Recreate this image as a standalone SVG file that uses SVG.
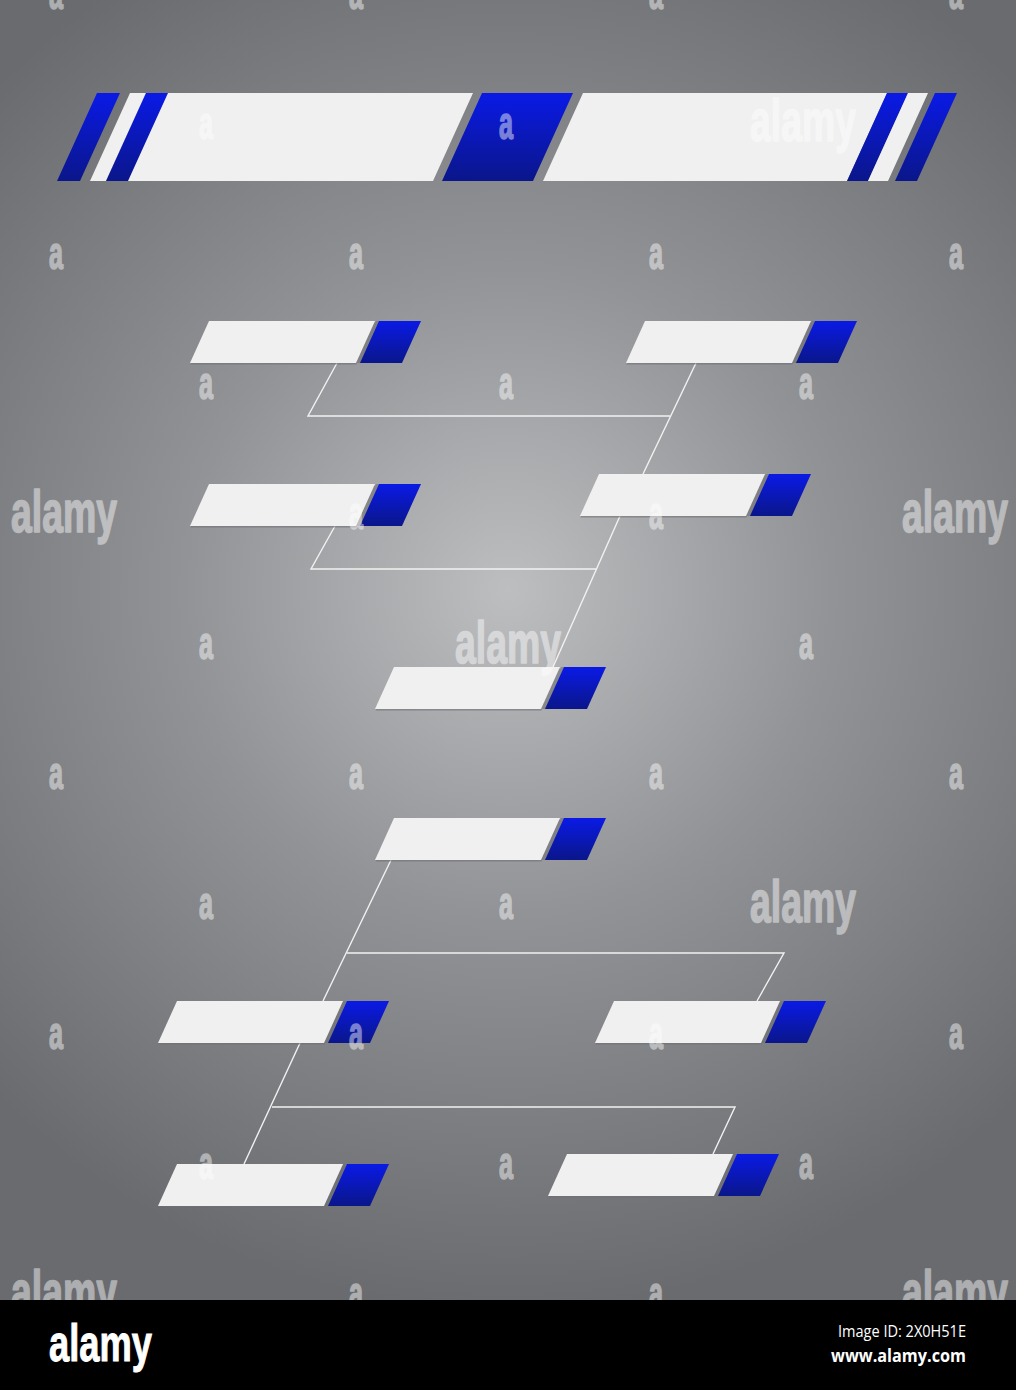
<svg xmlns="http://www.w3.org/2000/svg" width="1016" height="1390" viewBox="0 0 1016 1390">
<defs>
<radialGradient id="bg" gradientUnits="userSpaceOnUse" cx="508" cy="590" r="720">
<stop offset="0" stop-color="#bdbec0"/>
<stop offset="0.45" stop-color="#929396"/>
<stop offset="1" stop-color="#6a6b6f"/>
</radialGradient>
<linearGradient id="blue" x1="0" y1="0" x2="0" y2="1">
<stop offset="0" stop-color="#0a1ae6"/>
<stop offset="1" stop-color="#0a168a"/>
</linearGradient>
<clipPath id="wmclip"><rect x="0" y="0" width="1016" height="1300"/></clipPath>
<style>
.w{fill:#f0f0f0}
.b{fill:url(#blue)}
.sh{fill:#6f7073;opacity:0.6}
.c{fill:none;stroke:#f2f2f2;stroke-width:1.4}
.wm{font-family:"Liberation Sans Narrow","Liberation Sans",Arial,sans-serif;font-weight:bold;fill:#ffffff;stroke:#ffffff;stroke-width:1.6;stroke-linejoin:round;text-anchor:middle}
</style>
<g id="shape">
<polygon class="sh" points="19,1.5 185,1.5 166,43.5 0,43.5" transform="translate(0.5,0)"/>
<polygon class="w" points="19,0 185,0 166,42 0,42"/>
<polygon class="sh" points="186,0 228,0 209,42 167,42"/>
<polygon class="b" points="189,0 231,0 212,42 170,42"/>
</g>
</defs>
<rect x="0" y="0" width="1016" height="1390" fill="url(#bg)"/>

<g id="header">
<polygon class="b" points="97,93 120,93 80,181 57,181"/>
<polygon class="w" points="130,93 146,93 106,181 90,181"/>
<polygon class="w" points="146,93 473,93 433,181 106,181"/>
<polygon class="b" points="146,93 168,93 128,181 106,181"/>
<polygon class="b" points="482,93 573,93 533,181 442,181"/>
<polygon class="w" points="583,93 887,93 847,181 543,181"/>
<polygon class="b" points="887,93 908,93 868,181 847,181"/>
<polygon class="w" points="908,93 928,93 888,181 868,181"/>
<polygon class="b" points="935,93 957,93 917,181 895,181"/>
</g>

<g id="connectors">
<polyline class="c" points="337,363 308,416 670,416"/>
<line class="c" x1="696" y1="363" x2="643" y2="474"/>
<polyline class="c" points="335,526 311,569 596,569"/>
<line class="c" x1="620" y1="516" x2="553" y2="667"/>
<line class="c" x1="391" y1="860" x2="323" y2="1001"/>
<polyline class="c" points="347,953 784,953 757,1001"/>
<line class="c" x1="300" y1="1043" x2="244" y2="1164"/>
<polyline class="c" points="272,1107 735,1107 713,1154"/>
</g>

<g id="node1" transform="translate(190,321)"><use href="#shape"/></g>
<g id="node2" transform="translate(626,321)"><use href="#shape"/></g>
<g id="node3" transform="translate(190,484)"><use href="#shape"/></g>
<g id="node4" transform="translate(580,474)"><use href="#shape"/></g>
<g id="node5" transform="translate(375,667)"><use href="#shape"/></g>
<g id="node6" transform="translate(375,818)"><use href="#shape"/></g>
<g id="node7" transform="translate(158,1001)"><use href="#shape"/></g>
<g id="node8" transform="translate(595,1001)"><use href="#shape"/></g>
<g id="node9" transform="translate(158,1164)"><use href="#shape"/></g>
<g id="node10" transform="translate(548,1154)"><use href="#shape"/></g>

<g id="watermarks" opacity="0.45" clip-path="url(#wmclip)">
<text class="wm" font-size="46" x="56" y="9" textLength="14" lengthAdjust="spacingAndGlyphs">a</text>
<text class="wm" font-size="46" x="356" y="9" textLength="14" lengthAdjust="spacingAndGlyphs">a</text>
<text class="wm" font-size="46" x="656" y="9" textLength="14" lengthAdjust="spacingAndGlyphs">a</text>
<text class="wm" font-size="46" x="956" y="9" textLength="14" lengthAdjust="spacingAndGlyphs">a</text>

<text class="wm" font-size="46" x="206" y="139" textLength="14" lengthAdjust="spacingAndGlyphs">a</text>
<text class="wm" font-size="46" x="506" y="139" textLength="14" lengthAdjust="spacingAndGlyphs">a</text>
<text class="wm" font-size="60" x="803" y="141" textLength="106" lengthAdjust="spacingAndGlyphs">alamy</text>

<text class="wm" font-size="46" x="56" y="269" textLength="14" lengthAdjust="spacingAndGlyphs">a</text>
<text class="wm" font-size="46" x="356" y="269" textLength="14" lengthAdjust="spacingAndGlyphs">a</text>
<text class="wm" font-size="46" x="656" y="269" textLength="14" lengthAdjust="spacingAndGlyphs">a</text>
<text class="wm" font-size="46" x="956" y="269" textLength="14" lengthAdjust="spacingAndGlyphs">a</text>

<text class="wm" font-size="46" x="206" y="399" textLength="14" lengthAdjust="spacingAndGlyphs">a</text>
<text class="wm" font-size="46" x="506" y="399" textLength="14" lengthAdjust="spacingAndGlyphs">a</text>
<text class="wm" font-size="46" x="806" y="399" textLength="14" lengthAdjust="spacingAndGlyphs">a</text>

<text class="wm" font-size="60" x="64" y="532" textLength="106" lengthAdjust="spacingAndGlyphs">alamy</text>
<text class="wm" font-size="46" x="356" y="529" textLength="14" lengthAdjust="spacingAndGlyphs">a</text>
<text class="wm" font-size="46" x="656" y="529" textLength="14" lengthAdjust="spacingAndGlyphs">a</text>
<text class="wm" font-size="60" x="955" y="532" textLength="106" lengthAdjust="spacingAndGlyphs">alamy</text>

<text class="wm" font-size="46" x="206" y="659" textLength="14" lengthAdjust="spacingAndGlyphs">a</text>
<text class="wm" font-size="60" x="508" y="663" textLength="106" lengthAdjust="spacingAndGlyphs">alamy</text>
<text class="wm" font-size="46" x="806" y="659" textLength="14" lengthAdjust="spacingAndGlyphs">a</text>

<text class="wm" font-size="46" x="56" y="789" textLength="14" lengthAdjust="spacingAndGlyphs">a</text>
<text class="wm" font-size="46" x="356" y="789" textLength="14" lengthAdjust="spacingAndGlyphs">a</text>
<text class="wm" font-size="46" x="656" y="789" textLength="14" lengthAdjust="spacingAndGlyphs">a</text>
<text class="wm" font-size="46" x="956" y="789" textLength="14" lengthAdjust="spacingAndGlyphs">a</text>

<text class="wm" font-size="46" x="206" y="919" textLength="14" lengthAdjust="spacingAndGlyphs">a</text>
<text class="wm" font-size="46" x="506" y="919" textLength="14" lengthAdjust="spacingAndGlyphs">a</text>
<text class="wm" font-size="60" x="803" y="922" textLength="106" lengthAdjust="spacingAndGlyphs">alamy</text>

<text class="wm" font-size="46" x="56" y="1049" textLength="14" lengthAdjust="spacingAndGlyphs">a</text>
<text class="wm" font-size="46" x="356" y="1049" textLength="14" lengthAdjust="spacingAndGlyphs">a</text>
<text class="wm" font-size="46" x="656" y="1049" textLength="14" lengthAdjust="spacingAndGlyphs">a</text>
<text class="wm" font-size="46" x="956" y="1049" textLength="14" lengthAdjust="spacingAndGlyphs">a</text>

<text class="wm" font-size="46" x="206" y="1179" textLength="14" lengthAdjust="spacingAndGlyphs">a</text>
<text class="wm" font-size="46" x="506" y="1179" textLength="14" lengthAdjust="spacingAndGlyphs">a</text>
<text class="wm" font-size="46" x="806" y="1179" textLength="14" lengthAdjust="spacingAndGlyphs">a</text>

<text class="wm" font-size="60" x="64" y="1312" textLength="106" lengthAdjust="spacingAndGlyphs">alamy</text>
<text class="wm" font-size="46" x="356" y="1309" textLength="14" lengthAdjust="spacingAndGlyphs">a</text>
<text class="wm" font-size="46" x="656" y="1309" textLength="14" lengthAdjust="spacingAndGlyphs">a</text>
<text class="wm" font-size="60" x="955" y="1312" textLength="106" lengthAdjust="spacingAndGlyphs">alamy</text>
</g>

<g id="footer">
<rect x="0" y="1300" width="1016" height="90" fill="#000000"/>
<text x="49" y="1361" font-family="Liberation Sans Narrow,Liberation Sans,Arial,sans-serif" font-weight="bold" font-size="52" fill="#ffffff" stroke="#ffffff" stroke-width="1" textLength="103" lengthAdjust="spacingAndGlyphs">alamy</text>
<text x="966" y="1337" font-family="Open Sans,Liberation Sans,Arial,sans-serif" font-size="16" fill="#ffffff" text-anchor="end" textLength="128" lengthAdjust="spacingAndGlyphs">Image ID: 2X0H51E</text>
<text x="966" y="1362" font-family="Open Sans,Liberation Sans,Arial,sans-serif" font-weight="bold" font-size="18" fill="#ffffff" text-anchor="end" textLength="135" lengthAdjust="spacingAndGlyphs">www.alamy.com</text>
</g>
</svg>
